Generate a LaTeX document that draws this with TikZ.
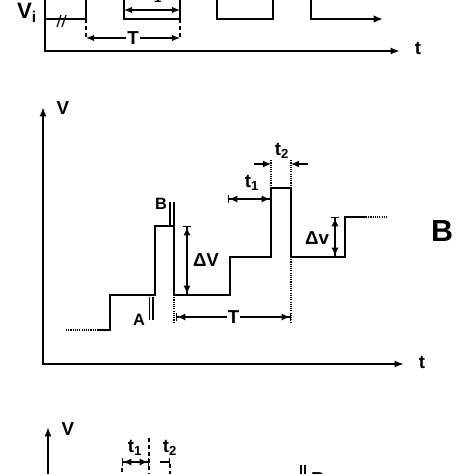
\documentclass[tikz,border=0pt]{standalone}
\usepackage{fontspec}
\setmainfont{Liberation Sans}
\usetikzlibrary{arrows.meta}
\tikzset{
  axis/.style={line width=1.9pt},
  wave/.style={line width=1.9pt},
  dimline/.style={line width=1pt,
    {Bar[width=7pt]Latex[length=7pt,width=6pt]}-{Latex[length=7pt,width=6pt]Bar[width=7pt]}},
  dimarrow/.style={line width=1pt,
    {Latex[length=7pt,width=5.5pt]}-{Latex[length=7pt,width=5.5pt]}},
  guide/.style={line width=0.9pt, densely dotted},
  lbl/.style={font=\fontsize{16}{16}\selectfont\bfseries, inner sep=0pt},
  smalllbl/.style={font=\fontsize{14}{14}\selectfont\bfseries, inner sep=0pt},
}
\begin{document}
\begin{tikzpicture}[x=0.03cm,y=-0.03cm]
\useasboundingbox (0,0) rectangle (474,474);
\clip (0,0) rectangle (474,474);
% Top: input pulses V_i
\draw[axis, -{Latex[length=8pt,width=6pt]}] (45,-10) |- (400,51);
\node[lbl, font=\fontsize{19}{19}\selectfont\bfseries] (vi) at (27,13) {V\textsubscript{i}};
\node[lbl] (ttop) at (418,48) {t};
\draw[wave] (45,19) -- (86,19) -- (86,-20);
\draw[wave] (124,-20) |- (180,19) -- (180,-20);
\draw[wave] (217,-20) |- (273,19) -- (273,-20);
\draw[wave, -{Latex[length=8pt,width=6.5pt]}] (311,-20) |- (383,19);
\draw[line width=1pt] (57,27) -- (61,15) (62,27) -- (66,15);
\draw[line width=0.9pt, dashed] (86,19) -- (86,40) (180,19) -- (180,40);
\draw[dimarrow] (86,38) -- (180,38) node[midway, lbl, fill=white, inner sep=1pt] (Ttop) {T};
\draw[dimarrow] (124,10) -- (180,10);
\node[lbl] (t1top) at (155,-5) {t\textsubscript{1}};
% Middle: staircase response
\draw[axis, {Latex[length=8pt,width=6pt]}-{Latex[length=8pt,width=6pt]}] (43,107) |- (404,364);
\node[lbl] (vmid) at (63,108) {V};
\node[lbl] (tmid) at (422,362) {t};
\node[lbl, font=\fontsize{26}{26}\selectfont\bfseries] (bigB) at (442,231) {B};
\draw[guide] (66,330) -- (97,330);
\draw[wave] (97,330) -| (110,295) -| (155,226) -| (174,295) -| (230,257)
  -| (271,188) -| (291,257) -| (345,217) -- (366,217);
\draw[guide] (366,217) -- (388,217);
% markers A and B
\draw[line width=1pt] (170,202) -- (170,226) (174,202) -- (174,226);
\node[smalllbl] (ptB) at (161,204) {B};
\draw[line width=1pt] (149.5,297) -- (149.5,320) (153,297) -- (153,320);
\node[smalllbl] (ptA) at (139,320) {A};
% dimensions
\draw[dimline] (187,226) -- (187,295);
\node[lbl] (dV) at (206,260) {ΔV};
\draw[guide] (174,295) -- (174,322) (291,257) -- (291,322);
\draw[dimline] (176,317) -- (291,317) node[midway, lbl, fill=white, inner sep=1pt] (Tmid) {T};
\draw[dimline] (228,199) -- (271,199);
\node[lbl] (t1mid) at (252,183) {t\textsubscript{1}};
\draw[guide] (271,188) -- (271,160) (291,188) -- (291,160);
\draw[line width=1pt, -{Latex[length=7pt,width=6pt]}] (254,164) -- (271,164);
\draw[line width=1pt, -{Latex[length=7pt,width=6pt]}] (308,164) -- (291,164);
\node[lbl] (t2mid) at (282,151) {t\textsubscript{2}};
\draw[dimline] (335,217) -- (335,257);
\node[lbl] (dv) at (317,238) {Δv};
% Bottom: next panel (cut off)
\draw[axis, {Latex[length=8pt,width=6pt]}-] (48,427) -- (48,480);
\node[lbl] (vbot) at (68,429) {V};
\node[lbl] (t1bot) at (135,448) {t\textsubscript{1}};
\node[lbl] (t2bot) at (170,448) {t\textsubscript{2}};
\draw[dimline] (122,462) -- (149,462);
\draw[line width=1pt, -{Bar[width=6pt]}] (160,462) -- (170,462);
\draw[line width=0.9pt, dashed] (149,438) -- (149,480) (170,464) -- (170,480) (122,468) -- (122,480);
\draw[line width=1pt] (301,465) -- (301,480) (305,465) -- (305,480);
\node[lbl] (bbot) at (318,479) {B};
\end{tikzpicture}
\end{document}
